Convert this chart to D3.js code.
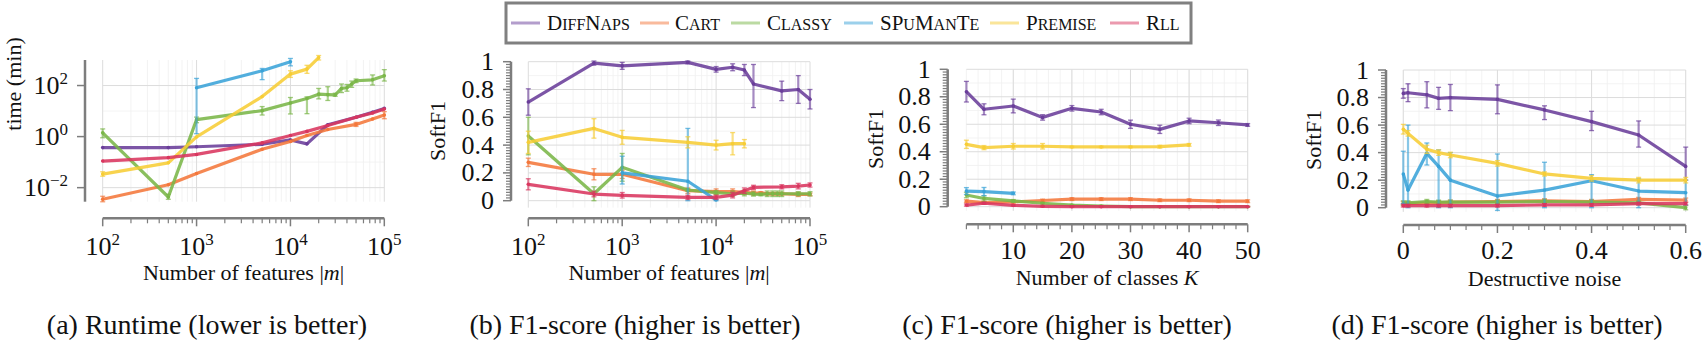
<!DOCTYPE html>
<html><head><meta charset="utf-8">
<script src="https://cdn.jsdelivr.net/npm/d3@7"></script>
<style>
body{margin:0;background:#fff}
svg{display:block}
</style>
</head><body>
<svg id="c" width="1705" height="351" font-family="'Liberation Serif', 'DejaVu Serif', serif"></svg>
<script>
// ---------------- DATA ----------------
const seriesNames = ["DiffNaps","Cart","Classy","SPuManTe","Premise","Rll"];
const seriesColors = ["#6a3d9a","#f4773b","#7ab648","#3aa3d8","#f7cd35","#d9365f"];
// small-caps rendering of legend names: [text, isSmall]
const legendLabels = [
  [["D",0],["IFF",1],["N",0],["APS",1]],
  [["C",0],["ART",1]],
  [["C",0],["LASSY",1]],
  [["SP",0],["U",1],["M",0],["AN",1],["T",0],["E",1]],
  [["P",0],["REMISE",1]],
  [["R",0],["LL",1]]
];

// shared x values for (a) and (b): number of features |m|
const featuresAll = [100,500,1000,5000,10000,15000,20000,25000,30000,35000,40000,45000,50000,75000,100000];

// (a) runtime in minutes
const rtDiffNaps = [0.37,0.37,0.40,0.50,0.74,0.52,null,2.9,null,null,null,null,5.7,9.0,12.7];
const rtCart     = [0.0035,0.013,0.036,0.32,0.64,1.1,null,1.9,null,null,null,null,3.0,4.9,7.0];
const rtClassy   = [1.4,0.0043,4.6,10.4,20.8,31,46,44,43,77,82,115,154,168,240];
const rtSpumante = [null,null,82,380,850,null,null,null,null,null,null,null,null,null,null];
const rtPremise  = [0.034,0.094,0.97,37,280,440,1250,null,null,null,null,null,null,null,null];
const rtRll      = [0.11,0.15,0.2,0.57,1.1,1.6,null,2.7,null,null,null,null,5.7,8.4,12];
const rtCartErr     = [[0.0028,0.0046],null,null,null,null,null,null,null,null,null,null,null,[2.5,3.6],null,[5,9.5]];
const rtClassyErr   = [[0.9,2.0],[0.0035,0.0055],[3.5,5.8],[7,15],[7.7,34],[7.9,36],[30,77],[26,90],[38,50],[53,115],[60,110],[85,150],[130,180],[105,260],[150,420]];
const rtSpumanteErr = [null,null,[1.3,190],[170,466],[590,1150]];
const rtPremiseErr  = [[0.028,0.042],null,null,null,[208,380],[300,620],[1000,1500]];

// (b) SoftF1 vs number of features
const f1DiffNaps = [0.71,0.99,0.97,0.995,0.945,0.96,0.94,0.84,null,null,null,null,0.79,0.80,0.73];
const f1Cart     = [0.276,0.19,0.19,0.072,0.065,0.065,0.06,0.055,0.055,0.05,0.05,0.05,0.05,0.045,0.045];
const f1Classy   = [0.465,0.05,0.24,0.077,0.058,0.05,0.055,0.048,0.045,0.05,0.05,0.05,0.05,0.05,0.05];
const f1Spumante = [null,null,0.20,0.14,0.005];
const f1Premise  = [0.42,0.52,0.456,0.42,0.40,0.41,0.41];
const f1Rll      = [0.118,0.048,0.039,0.024,0.024,0.04,0.072,0.096,null,null,null,null,0.10,0.105,0.113];
const f1DiffNapsErr = [0.095,0.015,0.025,0.01,0.02,0.025,0.04,[0.67,0.98],null,null,null,null,0.07,0.10,0.07];
const f1CartErr     = [0.03,0.04,0.03,0.02,0.02,0.02,0.015,0.015,0.01,0.01,0.01,0.01,0.01,0.015,0.01];
const f1ClassyErr   = [0.135,0.05,0.1,0.01,0.015,0.02,0.02,0.015,0.01,0.02,0.02,0.02,0.02,0.015,0.015];
const f1SpumanteErr = [null,null,[0.12,0.32],[0.0,0.52],[0.0,0.01]];
const f1PremiseErr  = [0.08,0.07,0.05,0.04,0.035,0.08,0.03];
const f1RllErr      = [0.04,0.02,0.02,0.015,0.015,0.02,0.02,0.015,null,null,null,null,0.015,0.02,0.015];

// (c) SoftF1 vs number of classes K
const classesK = [2,5,10,15,20,25,30,35,40,45,50];
const kDiffNaps = [0.837,0.709,0.733,0.65,0.716,0.689,0.60,0.563,0.624,0.611,0.595];
const kCart     = [0.04,0.03,0.035,0.045,0.055,0.055,0.055,0.047,0.047,0.04,0.04];
const kClassy   = [0.085,0.06,0.042,0.025,0.012,0.005,0,0,0,0,0];
const kSpumante = [0.114,0.11,0.097];
const kPremise  = [0.454,0.43,0.44,0.44,0.435,0.435,0.435,0.437,0.45];
const kRll      = [0.012,0.025,0.01,0.003,0,0,0,0,0,0,0];
const kDiffNapsErr = [0.075,0.04,0.05,0.02,0.02,0.02,0.03,0.03,0.02,0.02,0.01];
const kCartErr     = [0.01,0.01,0.01,0.01,0.01,0.01,0.01,0.01,0.01,0.01,0.01];
const kClassyErr   = [0.02,0.02,0.01,0.005,0.005,0.005,0.003,0.003,0.003,0.003,0.003];
const kSpumanteErr = [0.025,0.03,0.01];
const kPremiseErr  = [0.03,0.015,0.02,0.02,0.005,0.005,0.005,0.01,0.01];
const kRllErr      = [0.008,0.008,0.005,0.003,0.002,0.002,0.002,0.002,0.002,0.002,0.002];

// (d) SoftF1 vs destructive noise
const noiseLevels = [0,0.01,0.05,0.075,0.1,0.2,0.3,0.4,0.5,0.6];
const nDiffNaps = [0.83,0.835,0.82,0.794,0.80,0.787,0.71,0.625,0.528,0.30];
const nCart     = [0.03,0.03,0.035,0.035,0.04,0.045,0.05,0.045,0.06,0.055];
const nClassy   = [0.035,0.035,0.045,0.04,0.04,0.04,0.045,0.04,0.035,0.0];
const nSpumante = [0.245,0.128,0.395,0.30,0.20,0.085,0.128,0.196,0.121,0.109];
const nPremise  = [0.57,0.54,0.424,0.40,0.383,0.322,0.245,0.213,0.20,0.20];
const nRll      = [0.015,0.015,0.015,0.015,0.015,0.015,0.02,0.02,0.03,0.03];
const nDiffNapsErr = [0.035,0.065,0.095,0.08,0.095,0.105,[0.64,0.74],[0.56,0.70],[0.44,0.63],[0.20,0.44]];
const nCartErr     = [0.015,0.015,0.015,0.015,0.015,0.015,0.015,0.015,0.015,0.015];
const nClassyErr   = [0.015,0.015,0.015,0.015,0.015,0.015,0.015,0.015,0.015,0.015];
const nSpumanteErr = [[0.03,0.41],[0.0,0.6],[0.31,0.47],[0.0,0.42],[0.0,0.40],[-0.02,0.39],[0.0,0.33],[0.0,0.24],[0.0,0.21],[0.02,0.20]];
const nPremiseErr  = [0.035,0.02,0.03,0.02,0.02,0.02,0.015,0.02,0.02,0.02];
const nRllErr      = [0.01,0.01,0.01,0.01,0.01,0.01,0.01,0.01,0.01,0.01];

// tick labels
const logTickExp = [2,3,4,5];
const rtTickExp = [-2,0,2];
const f1Ticks = [0,0.2,0.4,0.6,0.8,1];
const kTicks = [10,20,30,40,50];
const noiseTicks = [0,0.2,0.4,0.6];
const captions = ["(a) Runtime (lower is better)","(b) F1-score (higher is better)","(c) F1-score (higher is better)","(d) F1-score (higher is better)"];

// ---------------- DRAWING ----------------
const svg = d3.select("#c");
const AXIS = "#7d7d7d";
const TXT = "#111";
const TICKFS = 26;

function errRange(y,e){
  if(e==null) return null;
  if(Array.isArray(e)) return e;
  return [y-e,y+e];
}
function supLabel(sel, base, exp){
  sel.append("tspan").text(base);
  sel.append("tspan").attr("dy",-10).attr("font-size",17).text(exp);
}
function logMinors(lo,hi){
  const out=[];
  for(let d=lo; d<hi; d++) for(let m=2;m<=9;m++) out.push(m*Math.pow(10,d));
  return out;
}

function panel(p){
  const g = svg.append("g");
  const [x0,x1] = p.x.range();
  // grid
  g.selectAll("line.vmin").data(p.gridXMinor).join("line")
    .attr("x1",d=>p.x(d)).attr("x2",d=>p.x(d)).attr("y1",p.gridTop).attr("y2",p.gridBottom)
    .attr("stroke","#f0f0f0").attr("stroke-width",0.8);
  g.selectAll("line.hmin").data(p.gridYMinor).join("line")
    .attr("x1",x0).attr("x2",x1).attr("y1",d=>p.y(d)).attr("y2",d=>p.y(d))
    .attr("stroke","#f0f0f0").attr("stroke-width",0.8);
  g.selectAll("line.vmaj").data(p.gridXMajor).join("line")
    .attr("x1",d=>p.x(d)).attr("x2",d=>p.x(d)).attr("y1",p.gridTop).attr("y2",p.gridBottom)
    .attr("stroke","#dcdcdc").attr("stroke-width",1);
  g.selectAll("line.hmaj").data(p.gridYMajor).join("line")
    .attr("x1",x0).attr("x2",x1).attr("y1",d=>p.y(d)).attr("y2",d=>p.y(d))
    .attr("stroke","#dcdcdc").attr("stroke-width",1);

  // y spine & ticks
  g.append("line").attr("x1",p.spineX).attr("x2",p.spineX)
    .attr("y1",p.spineTop).attr("y2",p.spineBottom).attr("stroke",AXIS).attr("stroke-width",2.5);
  g.selectAll("line.ytmin").data(p.yMinorTicks).join("line")
    .attr("x1",p.spineX-5).attr("x2",p.spineX).attr("y1",d=>p.y(d)).attr("y2",d=>p.y(d))
    .attr("stroke",AXIS).attr("stroke-width",1.2);
  g.selectAll("line.ytmaj").data(p.yTicks).join("line")
    .attr("x1",p.spineX-8).attr("x2",p.spineX).attr("y1",d=>p.y(d.v)).attr("y2",d=>p.y(d.v))
    .attr("stroke",AXIS).attr("stroke-width",1.5);
  g.selectAll("text.ytl").data(p.yTicks).join("text")
    .attr("x",p.spineX-17).attr("y",d=>p.y(d.v)+8.5).attr("text-anchor","end")
    .attr("font-size",TICKFS).attr("fill",TXT)
    .each(function(d){ const t=d3.select(this); if(d.exp!=null) supLabel(t,"10",d.exp); else t.text(d.label); });

  // x axis line & ticks
  g.append("line").attr("x1",x0).attr("x2",x1).attr("y1",p.axisY).attr("y2",p.axisY)
    .attr("stroke",AXIS).attr("stroke-width",2.5);
  g.selectAll("line.xtmin").data(p.xMinorTicks).join("line")
    .attr("x1",d=>p.x(d)).attr("x2",d=>p.x(d)).attr("y1",p.axisY).attr("y2",p.axisY+5)
    .attr("stroke",AXIS).attr("stroke-width",1.2);
  g.selectAll("line.xtmaj").data(p.xTicks).join("line")
    .attr("x1",d=>p.x(d.v)).attr("x2",d=>p.x(d.v)).attr("y1",p.axisY).attr("y2",p.axisY+8)
    .attr("stroke",AXIS).attr("stroke-width",1.5);
  g.selectAll("text.xtl").data(p.xTicks).join("text")
    .attr("x",d=>p.x(d.v)).attr("y",p.xTickBase).attr("text-anchor","middle")
    .attr("font-size",TICKFS).attr("fill",TXT)
    .each(function(d){ const t=d3.select(this); if(d.exp!=null) supLabel(t,"10",d.exp); else t.text(d.label); });

  // axis labels
  g.append("text").attr("x",(x0+x1)/2).attr("y",p.xLabelBase).attr("text-anchor","middle")
    .attr("font-size",22).attr("fill",TXT).html(p.xLabel);
  g.append("text").attr("transform",`translate(${p.yLabelX},${p.yLabelY}) rotate(-90)`)
    .attr("text-anchor","middle").attr("font-size",22).attr("fill",TXT).text(p.yLabel);

  // series
  const line = d3.line().x(d=>p.x(d.x)).y(d=>p.y(d.y));
  p.series.forEach((s,i)=>{
    const col = seriesColors[i];
    const pts = p.xs.map((xv,j)=>({x:xv,y:s.y[j],e:errRange(s.y[j], s.e?s.e[j]:null)}))
      .filter(d=>d.y!=null);
    const sg = g.append("g");
    const eb = pts.filter(d=>d.e);
    sg.selectAll("line.eb").data(eb).join("line")
      .attr("x1",d=>p.x(d.x)).attr("x2",d=>p.x(d.x))
      .attr("y1",d=>p.y(d.e[0])).attr("y2",d=>p.y(d.e[1]))
      .attr("stroke",col).attr("stroke-width",2.2).attr("opacity",0.6);
    sg.selectAll("line.cap1").data(eb).join("line")
      .attr("x1",d=>p.x(d.x)-2.5).attr("x2",d=>p.x(d.x)+2.5)
      .attr("y1",d=>p.y(d.e[0])).attr("y2",d=>p.y(d.e[0]))
      .attr("stroke",col).attr("stroke-width",1.3).attr("opacity",0.7);
    sg.selectAll("line.cap2").data(eb).join("line")
      .attr("x1",d=>p.x(d.x)-2.5).attr("x2",d=>p.x(d.x)+2.5)
      .attr("y1",d=>p.y(d.e[1])).attr("y2",d=>p.y(d.e[1]))
      .attr("stroke",col).attr("stroke-width",1.3).attr("opacity",0.7);
    sg.append("path").datum(pts).attr("d",line).attr("fill","none")
      .attr("stroke",col).attr("stroke-width",3.2).attr("stroke-linejoin","round")
      .attr("opacity",0.88);
    sg.selectAll("circle").data(pts).join("circle")
      .attr("cx",d=>p.x(d.x)).attr("cy",d=>p.y(d.y)).attr("r",1.8).attr("fill",col);
  });

  // caption
  svg.append("text").attr("x",p.capX).attr("y",334).attr("text-anchor","middle")
    .attr("font-size",28).attr("fill",TXT).text(p.caption);
}

// ---- panel (a)
{
  const x = d3.scaleLog().domain([100,1e5]).range([102.7,384.3]);
  const y = d3.scaleLog().domain([Math.pow(10,-2.55),1000]).range([201.7,60]);
  panel({
    x, y, xs: featuresAll,
    gridTop:60, gridBottom:201.7,
    gridXMajor:[1e2,1e3,1e4,1e5], gridXMinor:logMinors(2,5),
    gridYMajor:[1e-2,1,1e2], gridYMinor:[1e-1,1e1],
    spineX:85, spineTop:60, spineBottom:201.7,
    yTicks: rtTickExp.map(e=>({v:Math.pow(10,e),exp:(e<0?"\u2212":"")+Math.abs(e)})),
    yMinorTicks: [],
    axisY:218.3, xTickBase:255,
    xTicks: logTickExp.map(e=>({v:Math.pow(10,e),exp:String(e)})),
    xMinorTicks: logMinors(2,5),
    xLabel:'Number of features |<tspan font-style="italic">m</tspan>|', xLabelBase:280,
    yLabel:"time (min)", yLabelX:21, yLabelY:84,
    series:[
      {y:rtDiffNaps},{y:rtCart,e:rtCartErr},{y:rtClassy,e:rtClassyErr},
      {y:rtSpumante,e:rtSpumanteErr},{y:rtPremise,e:rtPremiseErr},{y:rtRll}
    ],
    caption:captions[0], capX:207
  });
}
const f1Minor = d3.range(1,50).map(i=>i*0.02).filter(v=>Math.abs(v*5-Math.round(v*5))>1e-6);
const f1GridMinor = [0.1,0.3,0.5,0.7,0.9];
// ---- panel (b)
{
  const x = d3.scaleLog().domain([100,1e5]).range([528.3,810]);
  const y = d3.scaleLinear().domain([0,1]).range([200.7,61.7]);
  panel({
    x, y, xs: featuresAll,
    gridTop:y(1), gridBottom:y(-0.05),
    gridXMajor:[1e2,1e3,1e4,1e5], gridXMinor:logMinors(2,5),
    gridYMajor:f1Ticks, gridYMinor:f1GridMinor,
    spineX:511, spineTop:y(1), spineBottom:y(0),
    yTicks: f1Ticks.map(v=>({v,label:String(v)})), yMinorTicks:f1Minor,
    axisY:218.3, xTickBase:255,
    xTicks: logTickExp.map(e=>({v:Math.pow(10,e),exp:String(e)})),
    xMinorTicks: logMinors(2,5),
    xLabel:'Number of features |<tspan font-style="italic">m</tspan>|', xLabelBase:280,
    yLabel:"SoftF1", yLabelX:445, yLabelY:131,
    series:[
      {y:f1DiffNaps,e:f1DiffNapsErr},{y:f1Cart,e:f1CartErr},{y:f1Classy,e:f1ClassyErr},
      {y:f1Spumante,e:f1SpumanteErr},{y:f1Premise,e:f1PremiseErr},{y:f1Rll,e:f1RllErr}
    ],
    caption:captions[1], capX:635
  });
}
// ---- panel (c)
{
  const x = d3.scaleLinear().domain([2,50]).range([966.4,1247.7]);
  const y = d3.scaleLinear().domain([0,1]).range([206.7,69.3]);
  panel({
    x, y, xs: classesK,
    gridTop:y(1), gridBottom:y(-0.03),
    gridXMajor:kTicks, gridXMinor:d3.range(2,51,2),
    gridYMajor:f1Ticks, gridYMinor:f1GridMinor,
    spineX:947.7, spineTop:y(1), spineBottom:y(0),
    yTicks: f1Ticks.map(v=>({v,label:String(v)})), yMinorTicks:f1Minor,
    axisY:224.3, xTickBase:258.5,
    xTicks: kTicks.map(v=>({v,label:String(v)})),
    xMinorTicks: d3.range(2,51,2).filter(v=>v%10!==0),
    xLabel:'Number of classes <tspan font-style="italic">K</tspan>', xLabelBase:285,
    yLabel:"SoftF1", yLabelX:883, yLabelY:139,
    series:[
      {y:kDiffNaps,e:kDiffNapsErr},{y:kCart,e:kCartErr},{y:kClassy,e:kClassyErr},
      {y:kSpumante,e:kSpumanteErr},{y:kPremise,e:kPremiseErr},{y:kRll,e:kRllErr}
    ],
    caption:captions[2], capX:1067
  });
}
// ---- panel (d)
{
  const x = d3.scaleLinear().domain([0,0.6]).range([1403.3,1685.7]);
  const y = d3.scaleLinear().domain([0,1]).range([207.7,70]);
  const minors = d3.range(0,19).map(i=>i/30);
  panel({
    x, y, xs: noiseLevels,
    gridTop:y(1), gridBottom:y(-0.03),
    gridXMajor:noiseTicks, gridXMinor:minors,
    gridYMajor:f1Ticks, gridYMinor:f1GridMinor,
    spineX:1386, spineTop:y(1), spineBottom:y(0),
    yTicks: f1Ticks.map(v=>({v,label:String(v)})), yMinorTicks:f1Minor,
    axisY:225, xTickBase:259,
    xTicks: noiseTicks.map(v=>({v,label:String(v)})),
    xMinorTicks: minors.filter((v,i)=>i%6!==0),
    xLabel:'Destructive noise', xLabelBase:286,
    yLabel:"SoftF1", yLabelX:1321, yLabelY:140,
    series:[
      {y:nDiffNaps,e:nDiffNapsErr},{y:nCart,e:nCartErr},{y:nClassy,e:nClassyErr},
      {y:nSpumante,e:nSpumanteErr},{y:nPremise,e:nPremiseErr},{y:nRll,e:nRllErr}
    ],
    caption:captions[3], capX:1497
  });
}

// ---- legend
{
  const lg = svg.append("g");
  lg.append("rect").attr("x",506).attr("y",3).attr("width",685).attr("height",40)
    .attr("fill","#fff").attr("stroke","#808080").attr("stroke-width",3);
  const lineX = [511,640,731,844,990,1110];
  const textX = [547,675,767,880,1026,1146];
  const items = lg.selectAll("g.item").data(seriesNames).join("g");
  items.append("line").attr("x1",(d,i)=>lineX[i]).attr("x2",(d,i)=>lineX[i]+29)
    .attr("y1",23).attr("y2",23).attr("stroke",(d,i)=>seriesColors[i])
    .attr("stroke-width",3).attr("opacity",0.5);
  items.append("text").attr("x",(d,i)=>textX[i]).attr("y",30).attr("font-size",21).attr("fill",TXT)
    .each(function(d,i){
      const t=d3.select(this);
      legendLabels[i].forEach(([s,small])=>t.append("tspan").attr("font-size",small?16:21).text(s));
    });
}
</script>
</body></html>
